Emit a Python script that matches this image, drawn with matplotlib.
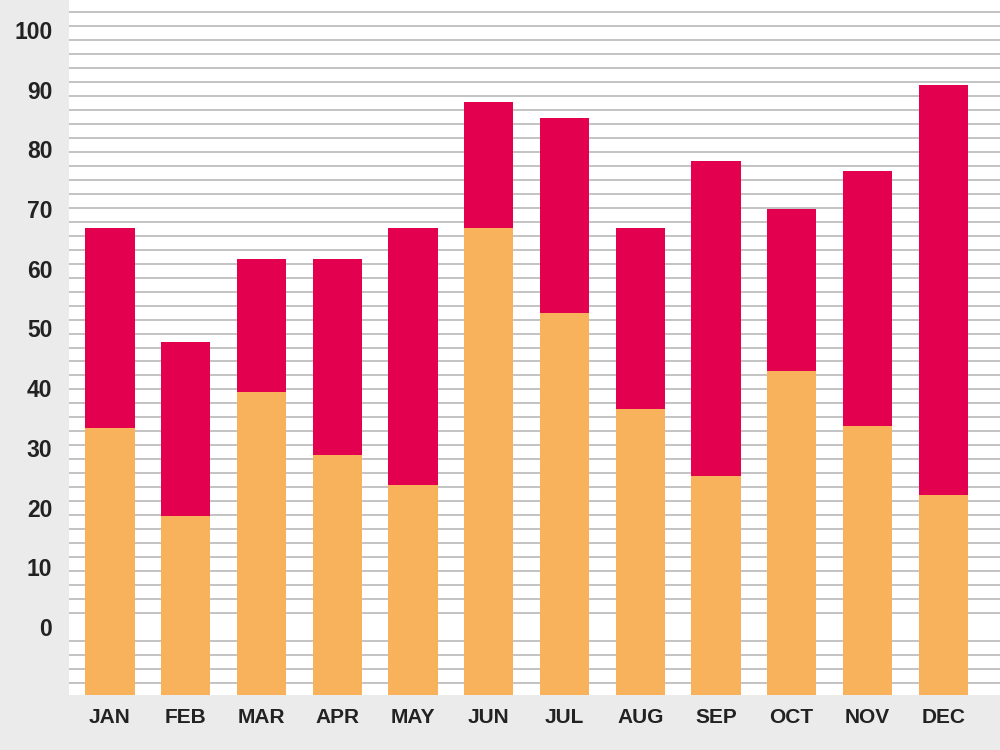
import matplotlib.pyplot as plt
from matplotlib.ticker import MultipleLocator

months = ['JAN', 'FEB', 'MAR', 'APR', 'MAY', 'JUN', 'JUL', 'AUG', 'SEP', 'OCT', 'NOV', 'DEC']
lower = [33.3, 18.6, 39.4, 28.8, 23.8, 66.8, 52.6, 36.5, 25.3, 42.9, 33.7, 22.1]
totals = [66.8, 47.7, 61.6, 61.6, 66.8, 87.9, 85.3, 66.8, 78.1, 70.0, 76.4, 90.8]
upper = [t - l for t, l in zip(totals, lower)]
y_ticks = list(range(0, 101, 10))

# bars start below the zero line in the original
base = -11.4

plt.rcParams['font.family'] = ['Liberation Sans', 'DejaVu Sans']

fig = plt.figure(figsize=(10, 7.5), dpi=100)
fig.patch.set_facecolor('#ebebeb')
ax = fig.add_axes([0.069, 0.0733, 0.931, 0.9267])
ax.set_facecolor('white')

x = range(len(months))
ax.bar(x, [v - base for v in lower], 0.65, bottom=base, color='#f8b25b', zorder=3)
ax.bar(x, upper, 0.65, bottom=lower, color='#e3004f', zorder=3)

ax.set_ylim(base, 105.0)
ax.set_xlim(-0.54, 11.75)

ax.set_yticks(y_ticks)
ax.set_yticklabels([str(v) for v in y_ticks], fontsize=16.5, fontweight='bold', color='#222222')
ax.yaxis.set_minor_locator(MultipleLocator(2.34))
ax.grid(True, which='minor', axis='y', color='#b9b9b9', linewidth=1.2, zorder=1)
ax.grid(False, which='major')
ax.tick_params(axis='y', which='both', length=0, pad=12)

ax.set_xticks(list(x))
ax.set_xticklabels(months, fontsize=15, fontweight='bold', color='#222222')
ax.tick_params(axis='x', length=0, pad=9)

for s in ax.spines.values():
    s.set_visible(False)

fig.savefig('out.png', dpi=100, facecolor=fig.get_facecolor())
